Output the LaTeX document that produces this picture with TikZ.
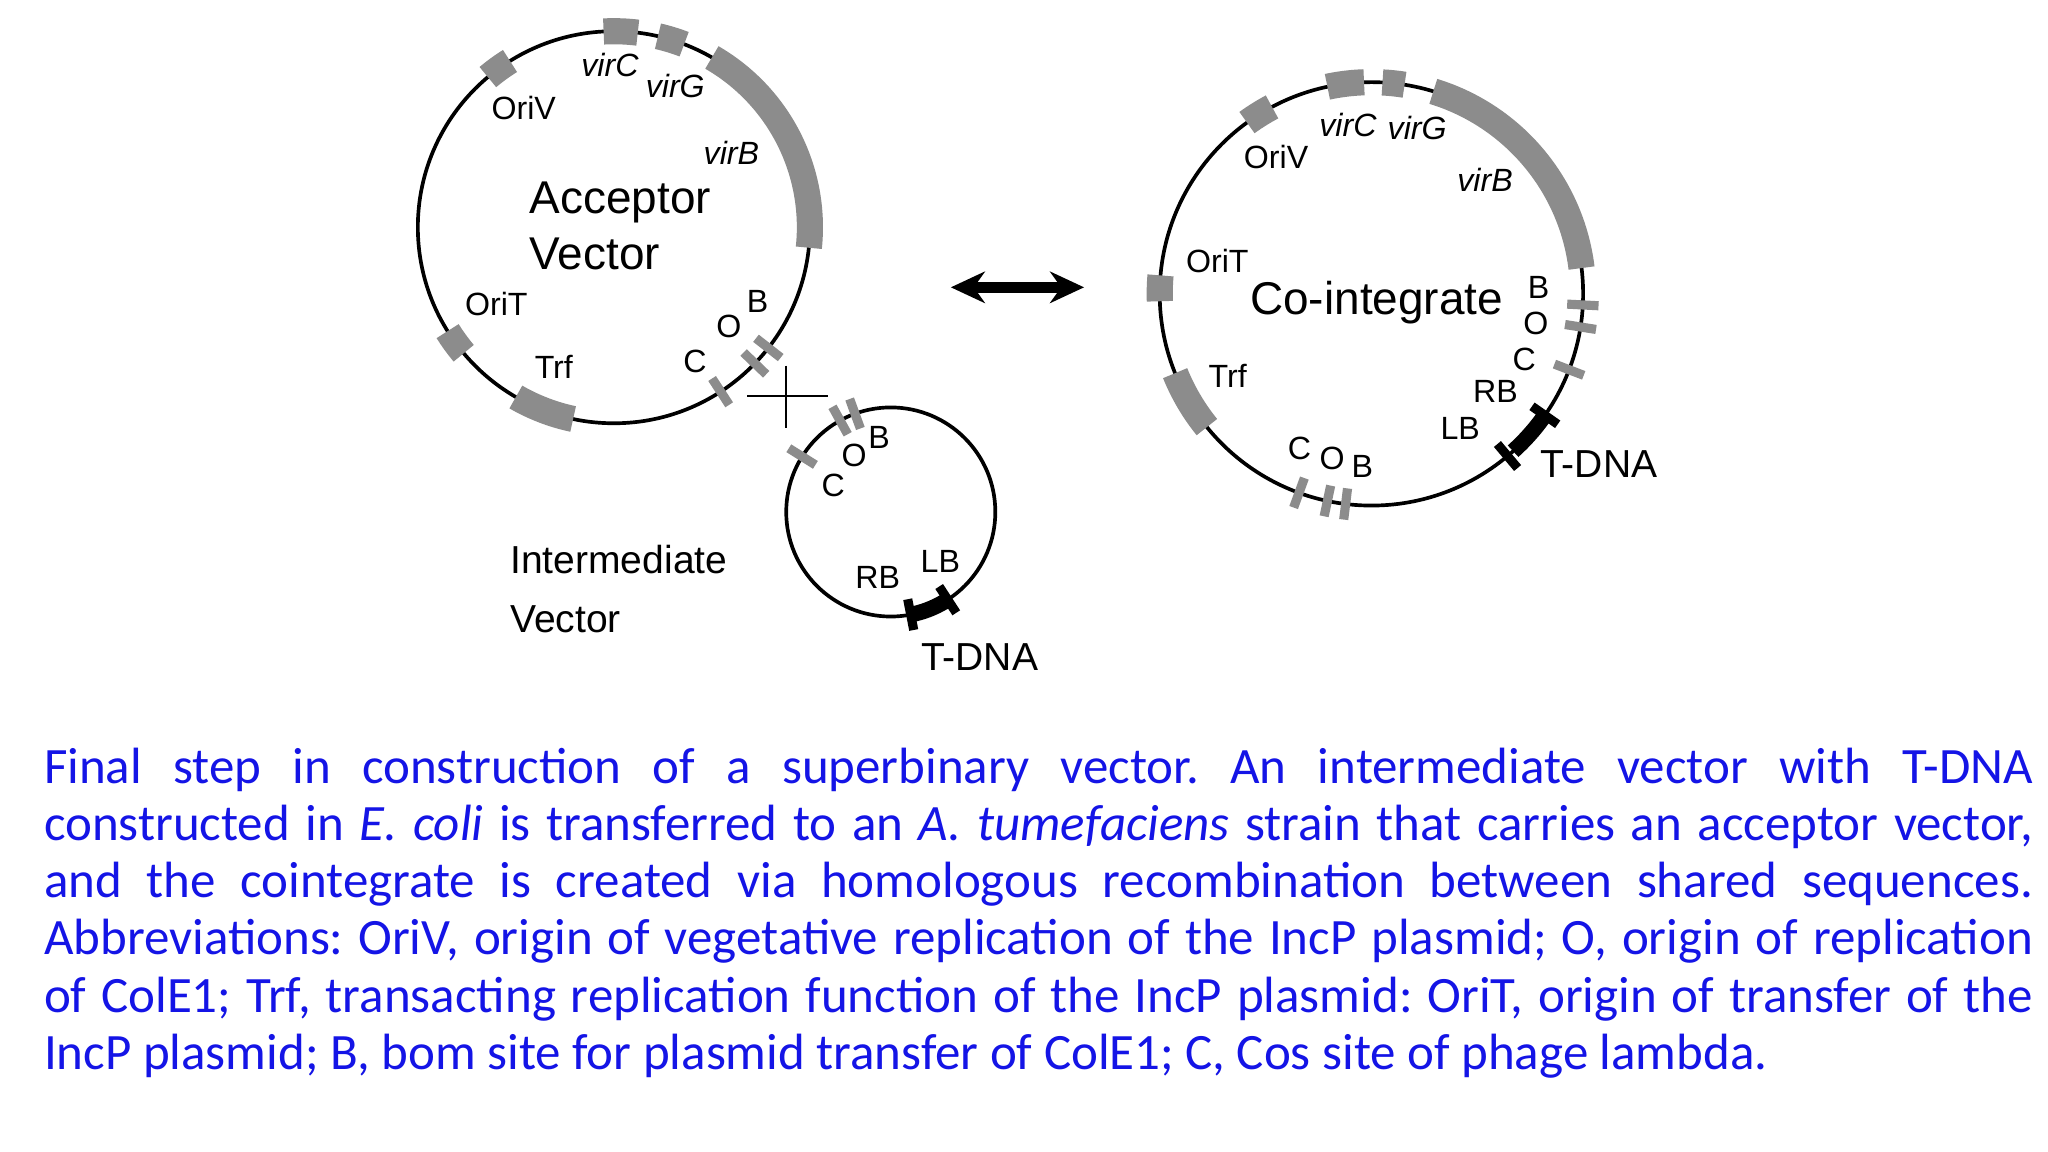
\documentclass[tikz,border=0pt]{standalone}
\usepackage{fontspec}
\setmainfont{Liberation Sans}
\newfontfamily\capfont{Carlito}
\usetikzlibrary{calc,arrows.meta}
\definecolor{feat}{RGB}{140,140,140}
\definecolor{capblue}{RGB}{20,20,230}
\newcommand\myarc[6]{% center, radius, a1, a2, width, color
  \draw[line width=#5,#6] ($(#1)+(#3:#2)$) arc[start angle=#3,end angle=#4,radius=#2];}
\newcommand\mytick[4]{% center, radius, angle, color
  \draw[line width=0.07cm,#4] ($(#1)+(#3:{#2-0.12cm})$) -- ($(#1)+(#3:{#2+0.12cm})$);}
\begin{document}
\frenchspacing
\begin{tikzpicture}[x=0.01cm,y=0.01cm,
  lab/.style={font=\fontsize{7pt}{8pt}\selectfont,inner sep=0},
  big/.style={font=\fontsize{10pt}{12pt}\selectfont,inner sep=0,align=left},
  mid/.style={font=\fontsize{8.5pt}{10pt}\selectfont,inner sep=0,align=left}]
\useasboundingbox (0,0) rectangle (1568,882);
\fill[white] (0,0) rectangle (1568,882);
% Acceptor
\coordinate (A) at (470,708);
\draw[thick] (A) circle[radius=1.5cm];
\myarc{A}{1.5cm}{130}{122}{0.2cm}{feat}
\myarc{A}{1.5cm}{93}{83}{0.2cm}{feat}
\myarc{A}{1.5cm}{77}{69}{0.2cm}{feat}
\myarc{A}{1.5cm}{60}{-6}{0.2cm}{feat}
\myarc{A}{1.5cm}{220}{212}{0.2cm}{feat}
\myarc{A}{1.5cm}{240}{258}{0.2cm}{feat}
\mytick{A}{1.5cm}{-57}{feat}
\mytick{A}{1.5cm}{-38}{feat}
\mytick{A}{1.5cm}{-44}{feat}
\node[lab] at (401,799) {OriV};
\node[lab] at (467,832) {\itshape virC};
\node[lab] at (517,816) {\itshape virG};
\node[lab] at (560,765) {\itshape virB};
\node[big] (acc) at (475,709) {Acceptor\\Vector};
\node[lab] at (380,649) {OriT};
\node[lab] at (424,601) {Trf};
\node[lab] at (532,605) {C};
\node[lab] at (558,632) {O};
\node[lab] at (580,651) {B};
\draw (572,579) -- (634,579);
\draw (602,602) -- (602,554);
% Intermediate
\coordinate (I) at (682,490);
\draw[thick] (I) circle[radius=0.8cm];
\mytick{I}{0.8cm}{119}{feat}
\mytick{I}{0.8cm}{110}{feat}
\mytick{I}{0.8cm}{148}{feat}
\myarc{I}{0.8cm}{-77}{-57}{0.12cm}{black}
\mytick{I}{0.8cm}{-79}{black}
\mytick{I}{0.8cm}{-57}{black}
\node[lab] at (673,547) {B};
\node[lab] at (654,533) {O};
\node[lab] at (638,510) {C};
\node[lab] at (672,440) {RB};
\node[lab] at (720,452) {LB};
\node[mid] at (750,379) {T-DNA};
\node[mid,anchor=west] (iv) at (390,431) {Intermediate\\[3pt]Vector};
% arrow
\coordinate (p) at (728,662);
\coordinate (q) at (830,662);
\draw[line width=0.08cm,{Stealth[length=0.26cm,width=0.24cm]}-{Stealth[length=0.26cm,width=0.24cm]}] (p) -- (q);
% Co-integrate
\coordinate (C) at (1050,657);
\draw[thick] (C) circle[radius=1.62cm];
\myarc{C}{1.62cm}{126}{118}{0.2cm}{feat}
\myarc{C}{1.62cm}{102}{92}{0.2cm}{feat}
\myarc{C}{1.62cm}{87}{81}{0.2cm}{feat}
\myarc{C}{1.62cm}{73}{7}{0.2cm}{feat}
\myarc{C}{1.62cm}{182}{175}{0.2cm}{feat}
\myarc{C}{1.62cm}{202}{219}{0.2cm}{feat}
\mytick{C}{1.62cm}{-3}{feat}
\mytick{C}{1.62cm}{-9}{feat}
\mytick{C}{1.62cm}{-21}{feat}
\myarc{C}{1.62cm}{-36}{-48}{0.12cm}{black}
\mytick{C}{1.62cm}{-35}{black}
\mytick{C}{1.62cm}{-50}{black}
\mytick{C}{1.62cm}{250}{feat}
\mytick{C}{1.62cm}{258}{feat}
\mytick{C}{1.62cm}{263}{feat}
\node[lab] at (977,762) {OriV};
\node[lab] at (1032,786) {\itshape virC};
\node[lab] at (1085,784) {\itshape virG};
\node[lab] at (1137,744) {\itshape virB};
\node[lab] at (932,682) {OriT};
\node[big] (co) at (1054,650) {Co-integrate};
\node[lab] at (1178,662) {B};
\node[lab] at (1176,634) {O};
\node[lab] at (1167,607) {C};
\node[lab] at (1145,582) {RB};
\node[lab] at (1118,554) {LB};
\node[mid] at (1224,527) {T-DNA};
\node[lab] at (940,594) {Trf};
\node[lab] at (995,539) {C};
\node[lab] at (1020,531) {O};
\node[lab] at (1043,525) {B};
% caption
\node[anchor=north west,inner sep=0,text width=15.22cm,align=justify,text=capblue,
  font=\capfont\fontsize{11.1pt}{12.45pt}\selectfont] (cap) at (33,310) {%
Final step in construction of a superbinary vector. An intermediate vector with T-DNA\linebreak
constructed in \textit{E. coli} is transferred to an \textit{A. tumefaciens} strain that carries an acceptor vector,\linebreak
and the cointegrate is created via homologous recombination between shared sequences.\linebreak
Abbreviations: OriV, origin of vegetative replication of the IncP plasmid; O, origin of replication\linebreak
of ColE1; Trf, transacting replication function of the IncP plasmid: OriT, origin of transfer of the\linebreak
IncP plasmid; B, bom site for plasmid transfer of ColE1; C, Cos site of phage lambda.\par};
\end{tikzpicture}
\end{document}
